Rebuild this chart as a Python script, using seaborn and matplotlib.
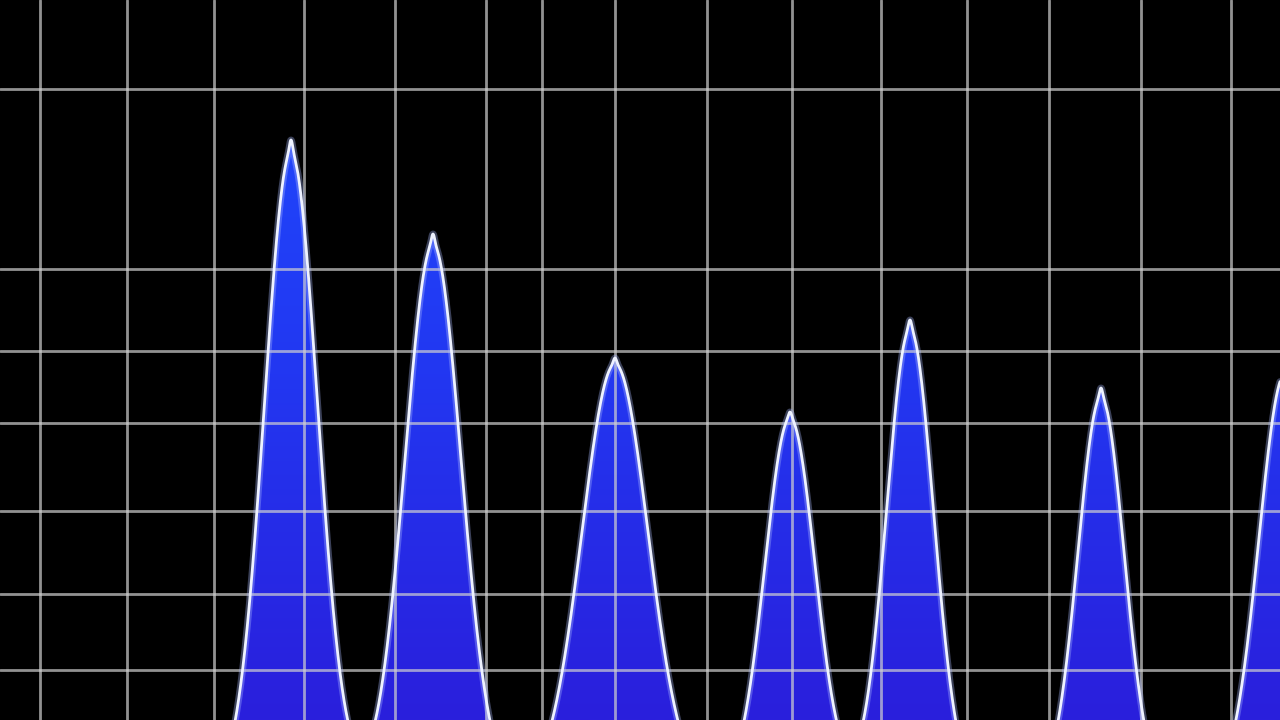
import numpy as np
import pandas as pd
import matplotlib
matplotlib.use("Agg")
import matplotlib.pyplot as plt
from matplotlib.colors import LinearSegmentedColormap
from matplotlib.patches import Polygon
import seaborn as sns

# peaks: centre (px from left), height above baseline, width
peak_pos = [291, 433, 615, 790, 910, 1101, 1285]
peak_height = [650, 556, 432, 378, 470, 402, 416]
peak_width = [26.5, 28, 33, 25, 23.5, 23, 26]
tip_spike = [12, 10, 6, 6, 9, 9, 0]

# grid positions
grid_x = [40, 127, 214, 304, 395, 486, 542, 615, 707, 792, 881, 967, 1049, 1141, 1231]
grid_y = [120, 196, 279, 367, 439, 521, 701]

x = np.linspace(0, 1280, 6401)
y = np.zeros_like(x)
for p, h, w, s in zip(peak_pos, peak_height, peak_width, tip_spike):
    y += (h - s) * np.exp(-0.5 * ((x - p) / w) ** 2)
    y += s * np.exp(-0.5 * ((x - p) / 1.6) ** 2)
df = pd.DataFrame({"x": x, "y": y})

sns.set_theme(style="dark")
fig = plt.figure(figsize=(12.8, 7.2), dpi=100, facecolor="black")
ax = fig.add_axes([0, 0, 1, 1])
ax.set_facecolor("black")
ax.set_xlim(0, 1280)
ax.set_ylim(70, 790)

# gradient fill under the curve
cmap = LinearSegmentedColormap.from_list("blu", ["#2a1fdc", "#2238f2", "#1f4cff"])
grad = np.linspace(0, 1, 256).reshape(-1, 1)
im = ax.imshow(grad, extent=(0, 1280, 70, 790), origin="lower", cmap=cmap,
               aspect="auto", zorder=1)
poly = Polygon(np.column_stack([np.r_[x, x[::-1]], np.r_[y, np.zeros_like(y)]]),
               closed=True, facecolor="none", edgecolor="none")
ax.add_patch(poly)
im.set_clip_path(poly)

# outline with a soft glow
sns.lineplot(data=df, x="x", y="y", color="#a9b8ff", lw=5, alpha=0.35, ax=ax, zorder=4)
sns.lineplot(data=df, x="x", y="y", color="#eef2ff", lw=2.0, ax=ax, zorder=5)

ax.set_xticks(grid_x)
ax.set_yticks(grid_y)
ax.tick_params(length=0, labelbottom=False, labelleft=False)
ax.grid(True, color="#d0d0d0", lw=2.0, alpha=0.7)
ax.set_axisbelow(False)
ax.set_xlabel("")
ax.set_ylabel("")
for sp in ax.spines.values():
    sp.set_visible(False)

fig.savefig("out.png", dpi=100, facecolor="black")
